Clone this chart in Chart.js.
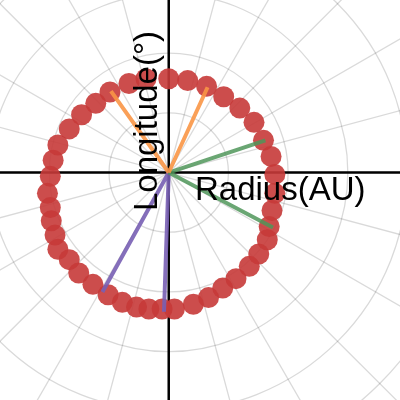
<!DOCTYPE html><html><head><script src="https://cdn.jsdelivr.net/npm/chart.js@4"></script>
<style>html,body{margin:0;padding:0;background:#fff}#w{width:400px;height:400px}</style></head><body><div id="w"><canvas id="c"></canvas></div>
<script>
const orbitX=[0.0,2.0,4.0,5.8,7.5,9.0,10.0,10.8,11.2,11.2,10.9,10.6,10.4,9.5,8.5,7.1,5.7,4.2,2.6,0.6,-0.7,-2.1,-3.4,-4.9,-6.4,-8.0,-9.5,-10.5,-11.7,-12.0,-12.4,-12.5,-12.8,-12.5,-12.2,-11.7,-10.5,-9.2,-7.7,-6.2,-4.2,-2.4];
const orbitY=[9.9,9.7,9.1,8.0,6.8,5.3,3.4,1.7,-0.2,-2.2,-4.0,-5.7,-7.1,-8.6,-9.9,-11.2,-12.2,-13.2,-13.9,-14.4,-14.4,-14.4,-14.2,-13.7,-12.9,-11.8,-10.6,-9.2,-8.1,-6.6,-5.1,-3.7,-2.2,-0.4,1.3,2.9,4.6,6.1,7.3,8.5,9.4,9.9];
const orangeEnds=[[-6.1,8.6],[4.1,9.0]];
const greenEnds=[[10.2,3.4],[11.0,-5.8]];
const purpleEnds=[[-7.0,-12.6],[-0.5,-14.7]];
const gridStep=6.3;
function spokes(ends){const d=[];ends.forEach(e=>{d.push({x:0,y:0},{x:e[0],y:e[1]},{x:NaN,y:NaN});});return d;}
function lineDs(ends,col){return {type:'line',data:spokes(ends),borderColor:col,borderWidth:4,pointRadius:0,spanGaps:false,showLine:true,order:2};}
const polarGrid={id:'pg',beforeDatasetsDraw(ch){const c=ch.ctx,xs=ch.scales.x,ys=ch.scales.y;const cx=xs.getPixelForValue(0),cy=ys.getPixelForValue(0);const k=xs.getPixelForValue(gridStep)-cx;c.save();c.strokeStyle='rgba(0,0,0,0.15)';c.lineWidth=1.3;
for(let i=1;i<=6;i++){c.beginPath();c.arc(cx,cy,k*i,0,Math.PI*2);c.stroke();}
for(let a=0;a<360;a+=15){const r=a*Math.PI/180;c.beginPath();c.moveTo(cx,cy);c.lineTo(cx+600*Math.cos(r),cy-600*Math.sin(r));c.stroke();}
c.strokeStyle='#000';c.lineWidth=2.5;c.beginPath();c.moveTo(0,cy);c.lineTo(400,cy);c.moveTo(cx,0);c.lineTo(cx,400);c.stroke();c.restore();},
afterDatasetsDraw(ch){const c=ch.ctx;c.save();c.fillStyle='#000';c.font='33px "Liberation Sans", Arial';c.textBaseline='middle';c.fillText('Radius(AU)',195,191);c.translate(148,121);c.rotate(-Math.PI/2);c.textAlign='center';c.fillText('Longitude(°)',0,0);c.restore();}};
new Chart(document.getElementById('c'),{type:'scatter',data:{datasets:[
{data:orbitX.map((x,i)=>({x,y:orbitY[i]})),backgroundColor:'rgba(198,58,56,0.9)',borderWidth:0,pointRadius:10.5,order:3},
lineDs(orangeEnds,'rgba(250,150,70,0.9)'),lineDs(greenEnds,'rgba(80,150,90,0.85)'),lineDs(purpleEnds,'rgba(120,95,180,0.9)')]},
options:{responsive:true,maintainAspectRatio:false,animation:false,layout:{padding:0},plugins:{legend:{display:false},tooltip:{enabled:false}},
scales:{x:{type:'linear',min:-16.7,max:23.3,display:false},y:{type:'linear',min:-22.9,max:17.1,display:false}}},plugins:[polarGrid]});
</script></body></html>
